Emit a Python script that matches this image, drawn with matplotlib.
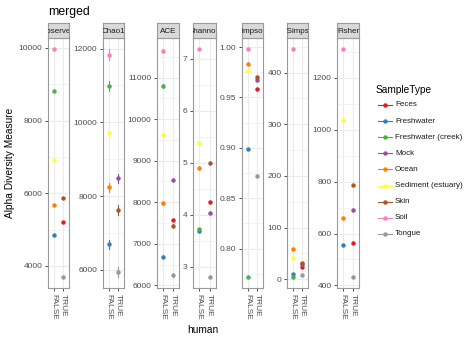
import numpy as np
import matplotlib
matplotlib.use("Agg")
import matplotlib.pyplot as plt
from matplotlib.lines import Line2D

plt.rcParams['font.family'] = ['Liberation Sans', 'DejaVu Sans']

# data
sample_types = ["Feces", "Freshwater", "Freshwater (creek)", "Mock", "Ocean",
                "Sediment (estuary)", "Skin", "Soil", "Tongue"]
colors = ["#E41A1C", "#377EB8", "#4DAF4A", "#984EA3", "#FF7F00",
          "#FFFF33", "#A65628", "#F781BF", "#999999"]
human = ["TRUE", "FALSE", "FALSE", "TRUE", "FALSE", "FALSE", "TRUE", "FALSE", "TRUE"]
measures = ["Observed", "Chao1", "ACE", "Shannon", "Simpson", "InvSimpson", "Fisher"]

observed = [5215, 4850, 8824, np.nan, 5680, 6914, 5860, 9960, 3705]
chao1 = [np.nan, 6690, 10990, 8480, 8235, 9714, 7620, 11830, 5945]
chao1_se = [0, 120, 140, 130, 130, 0, 140, 150, 130]
ace = [7570, 6690, 10800, 8530, 7975, 9620, 7440, 11640, 6240]
ace_se = [30, 30, 40, 30, 30, 0, 30, 40, 30]
shannon = [4.25, 3.69, 3.72, 4.03, 4.89, 5.37, 5.00, 7.18, 2.81]
simpson = [0.958, 0.8993, 0.7723, 0.967, 0.983, 0.9763, 0.9704, 0.9977, 0.8717]
invsimpson = [24, 9.7, 5, 29, 59, 42, 32, 445, 7.7]
fisher = [562, 556, np.nan, 690, 658, 1036, 787, 1309, 434]

values = [observed, chao1, ace, shannon, simpson, invsimpson, fisher]
errors = [None, chao1_se, ace_se, None, None, None, None]
ticks = [[4000, 6000, 8000, 10000],
         [6000, 8000, 10000, 12000],
         [6000, 7000, 8000, 9000, 10000, 11000],
         [3, 4, 5, 6, 7],
         [0.80, 0.85, 0.90, 0.95, 1.00],
         [0, 100, 200, 300, 400],
         [400, 600, 800, 1000, 1200]]
ticklabels = [["4000", "6000", "8000", "10000"],
              ["6000", "8000", "10000", "12000"],
              ["6000", "7000", "8000", "9000", "10000", "11000"],
              ["3", "4", "5", "6", "7"],
              ["0.80", "0.85", "0.90", "0.95", "1.00"],
              ["0", "100", "200", "300", "400"],
              ["400", "600", "800", "1000", "1200"]]

W, H = 474, 338
fig = plt.figure(figsize=(W / 100, H / 100), dpi=100)

panel_x = [(48, 69), (103, 124), (157, 179), (193, 216), (242, 263), (287, 308), (337, 359)]
top, bottom, strip_top = 38, 288, 23

def px(x0, y0, x1, y1):
    return [x0 / W, 1 - y1 / H, (x1 - x0) / W, (y1 - y0) / H]

edge = "#9a9a9a"
for i, m in enumerate(measures):
    x0, x1 = panel_x[i]
    ax = fig.add_axes(px(x0, top, x1, bottom))
    v = np.array(values[i], dtype=float)
    e = np.zeros(len(v)) if errors[i] is None else np.array(errors[i], dtype=float)
    lo = np.nanmin(v - e)
    hi = np.nanmax(v + e)
    pad = (hi - lo) * 0.05
    ax.set_ylim(lo - pad, hi + pad)
    ax.set_xlim(0.4, 2.6)
    # grid
    tk = ticks[i]
    step = tk[1] - tk[0]
    minors = [t + step / 2 for t in [tk[0] - step] + tk]
    for t in minors:
        ax.axhline(t, color="#ebebeb", lw=0.4, zorder=0)
    for t in tk:
        ax.axhline(t, color="#ebebeb", lw=0.8, zorder=0)
    for t in [1, 2]:
        ax.axvline(t, color="#ebebeb", lw=0.8, zorder=0)
    for j in range(len(v)):
        if np.isnan(v[j]):
            continue
        xp = 1 if human[j] == "FALSE" else 2
        if errors[i] is not None and e[j] > 0:
            ax.plot([xp, xp], [v[j] - e[j], v[j] + e[j]], color=colors[j], lw=0.8, zorder=2)
        ax.plot(xp, v[j], "o", color=colors[j], ms=3.2, mec="none", zorder=3)
    ax.set_yticks(tk)
    ax.set_yticklabels(ticklabels[i])
    ax.set_xticks([1, 2])
    ax.set_xticklabels(["FALSE", "TRUE"], rotation=-90, va="top", ha="center")
    ax.tick_params(length=2.5, width=0.6, color="#333333", labelsize=6,
                   labelcolor="#4d4d4d", pad=1.5)
    for s in ax.spines.values():
        s.set_color(edge)
        s.set_linewidth(0.8)
    # strip
    sx = fig.add_axes(px(x0, strip_top, x1, top))
    sx.set_facecolor("#d9d9d9")
    sx.set_xticks([])
    sx.set_yticks([])
    for s in sx.spines.values():
        s.set_color(edge)
        s.set_linewidth(0.8)
    sx.text(0.5, 0.45, m, ha="center", va="center", fontsize=5.8, color="#1a1a1a",
            transform=sx.transAxes, clip_on=True)

fig.text(48 / W, 1 - 12 / H, "merged", fontsize=8.8, ha="left", va="center")
fig.text(10 / W, 1 - 163 / H, "Alpha Diversity Measure", fontsize=7.3, rotation=90,
         ha="center", va="center")
fig.text(203 / W, 1 - 330 / H, "human", fontsize=7.3, ha="center", va="center")

# legend
fig.text(376 / W, 1 - 90 / H, "SampleType", fontsize=7.3, ha="left", va="center")
for j, st in enumerate(sample_types):
    y = 1 - (105 + j * 16.1) / H
    fig.add_artist(Line2D([378 / W, 392 / W], [y, y], color=colors[j], lw=0.8))
    fig.add_artist(Line2D([385 / W], [y], marker="o", color=colors[j], ms=3.2, mec="none"))
    fig.text(395 / W, y, st, fontsize=5.8, ha="left", va="center", color="#1a1a1a")

fig.savefig("out.png", dpi=100)
